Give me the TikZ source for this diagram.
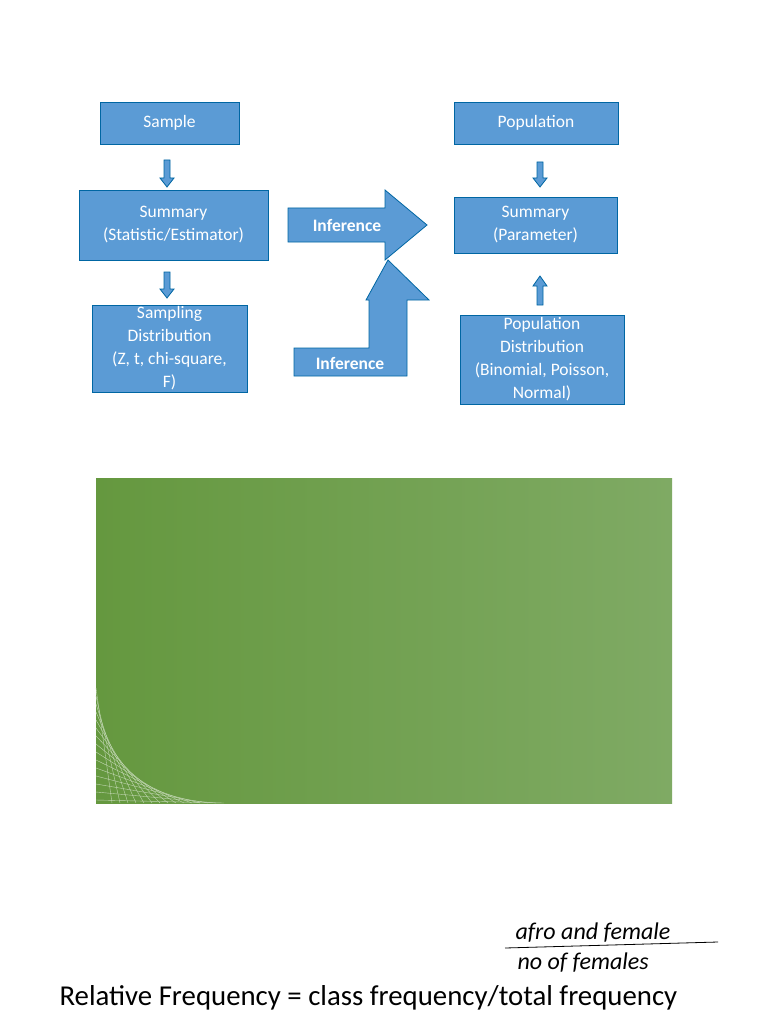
\documentclass[tikz,border=0pt]{standalone}
\usepackage{fontspec}
\setmainfont{Carlito}
\begin{document}
\begin{tikzpicture}[x=1pt,y=-1pt,
 bx/.style={draw=blue!40!black!60!cyan,fill=boxc,line width=0.8pt,text=white,font=\fontsize{17.5}{23}\selectfont,align=center,inner sep=0},
 arr/.style={draw=blue!40!black!60!cyan,fill=boxc,line width=0.8pt}]
\definecolor{boxc}{HTML}{5B9BD5}
\definecolor{gL}{HTML}{65983F}
\definecolor{gR}{HTML}{7FAA64}
\useasboundingbox (0,0) rectangle (768,1024);
\fill[white] (0,0) rectangle (768,1024);
\node[bx,minimum width=139pt,minimum height=42pt] (s) at (169.5,123) {Sample};
\node[bx,minimum width=164pt,minimum height=42pt] (p) at (536,123) {Population};
\node[bx,minimum width=189pt,minimum height=70pt] (ss) at (173.5,225) {Summary\\(Statistic/Estimator)};
\node[bx,minimum width=163pt,minimum height=56pt] (ps) at (535.5,225) {Summary\\(Parameter)};
\node[bx,minimum width=155pt,minimum height=87pt] (sd) at (169.5,348.5) {Sampling\\Distribution\\(Z, t, chi-square,\\F)};
\node[bx,minimum width=164pt,minimum height=89pt] (pd) at (542,359.5) {Population\\Distribution\\(Binomial, Poisson,\\Normal)};
% small arrows
\draw[arr] (164,160)--(170,160)--(170,178)--(174,178)--(167,187)--(160,178)--(164,178)--cycle;
\draw[arr] (164,272)--(170,272)--(170,289)--(174,289)--(167,298)--(160,289)--(164,289)--cycle;
\draw[arr] (537,162)--(543,162)--(543,178)--(547,178)--(540,187)--(533,178)--(537,178)--cycle;
\draw[arr] (537,305)--(543,305)--(543,286)--(547,286)--(540,276)--(533,286)--(537,286)--cycle;
% big right arrow
\draw[arr] (288,208)--(385,208)--(385,190)--(427,225)--(385,260)--(385,242)--(288,242)--cycle;
\node[text=white,font=\bfseries\fontsize{17.5}{20}\selectfont] (i1) at (347,225) {Inference};
% bent up arrow
\draw[arr] (294,348)--(369,348)--(369,300)--(366,300)--(388,260)--(429,300)--(407,300)--(407,376)--(294,376)--cycle;
\node[text=white,font=\bfseries\fontsize{17.5}{20}\selectfont] (i2) at (350,363) {Inference};
% green rect
\shade[left color=gL,right color=gR] (96,478) rectangle (672,803);
\foreach \k in {0,...,14}{\draw[white!60!gL,line width=0.4pt] (96,{688+\k*8}) -- ({112+\k*8},803);}
% handwriting
\node[font=\itshape\fontsize{24}{26}\selectfont,anchor=west] (h1) at (512,933) {afro and female};
\draw[line width=0.8pt] (505,948) -- (718,942);
\node[font=\itshape\fontsize{24}{26}\selectfont,anchor=west] (h2) at (514,963) {no of females};
\node[font=\fontsize{28.8}{32}\selectfont,anchor=west] (rf) at (56,998) {Relative Frequency = class frequency/total frequency};
\end{tikzpicture}
\end{document}
